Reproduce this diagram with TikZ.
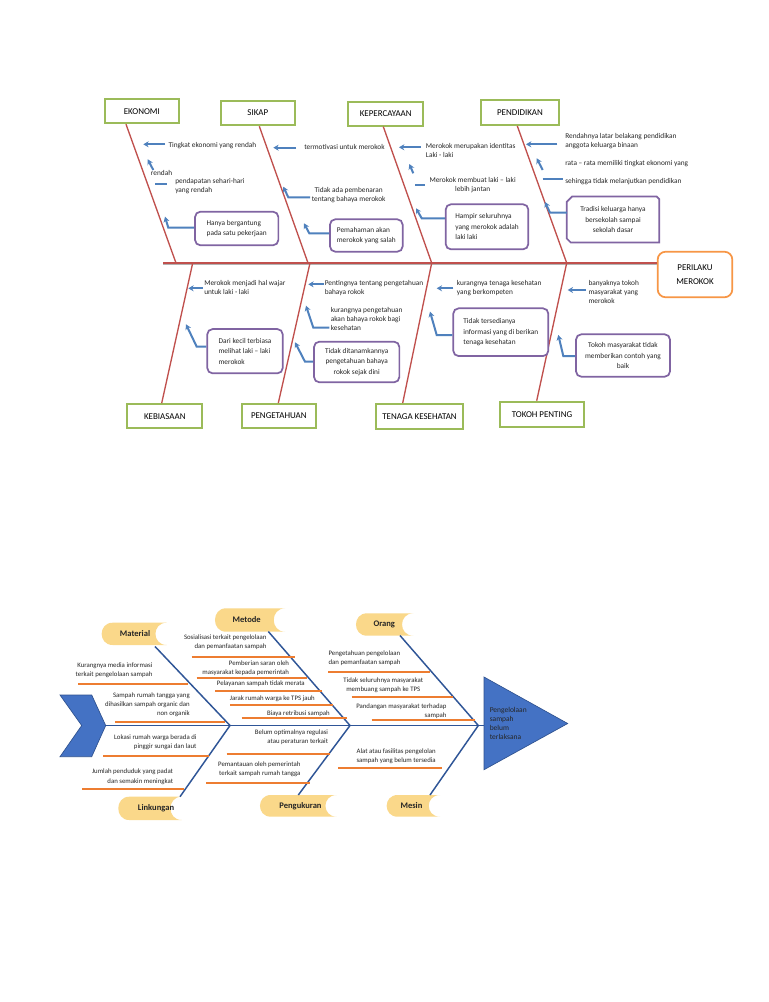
\documentclass[tikz,border=0pt]{standalone}
\usepackage{fontspec}
\setmainfont{Carlito}
\usetikzlibrary{arrows.meta}
\newcommand{\myfs}[2]{\fontsize{#1}{#2}\selectfont}
\definecolor{bonered}{HTML}{C0504D}
\definecolor{boxgreen}{HTML}{9BBB59}
\definecolor{boxpurple}{HTML}{8064A2}
\definecolor{arrblue}{HTML}{4F81BD}
\definecolor{boxorange}{HTML}{F79646}
\definecolor{txtgray}{HTML}{262626}
\definecolor{fbblue}{HTML}{2F5597}
\definecolor{fillblue}{HTML}{4472C4}
\definecolor{edgeblue}{HTML}{2F528F}
\definecolor{lineorange}{HTML}{ED7D31}
\definecolor{labyellow}{HTML}{FAD88A}
\newcommand{\ylab}[4]{\fill[labyellow] ({#1+11},#2) -- (#3,#2) .. controls ({#3-15},#2) and ({#3-15},#4) .. (#3,#4) -- ({#1+11},#4) .. controls ({#1-3.7},#4) and ({#1-3.7},#2) .. ({#1+11},#2) -- cycle;}
\begin{document}
\begin{tikzpicture}[x=0.75pt,y=-0.75pt,
  catbox/.style={draw=boxgreen, line width=1.4pt, fill=white, inner sep=0pt, font=\myfs{6.7}{8}, text=black},
  perbox/.style={draw=boxorange, line width=1.3pt, rounded corners=6pt, fill=white, inner sep=0pt, font=\myfs{6.7}{10}, text=black, align=center},
  txt/.style={inner sep=0pt, font=\myfs{5.5}{6.8}, text=txtgray, align=left, anchor=west},
  pbox/.style={draw=boxpurple, line width=1.3pt, rounded corners=4pt, fill=white, inner sep=0pt, font=\myfs{5.5}{7.8}, text=txtgray},
  arr/.style={draw=arrblue, line width=1.5pt, -{Stealth[length=4pt,width=4.5pt]}},
  bline/.style={draw=arrblue, line width=1.5pt},
  bone/.style={draw=bonered, line width=1pt},
  btxt/.style={inner sep=0pt, font=\myfs{5.1}{6.8}, text=txtgray},
  uline/.style={draw=lineorange, line width=1.4pt},
  fbone/.style={draw=fbblue, line width=1.1pt},
  lab/.style={inner sep=0pt, font=\bfseries\myfs{6.4}{7}, text=black!85}]
\useasboundingbox (0,0) rectangle (768,1002);
\fill[white] (0,0) rectangle (768,1002);

% ================= TOP FISHBONE =================
\node[catbox, minimum width=55.7pt, minimum height=18pt] (eko) at (141.8,111.3) {EKONOMI};
\node[catbox, minimum width=55.7pt, minimum height=18.5pt] (sik) at (257.8,113) {SIKAP};
\node[catbox, minimum width=56pt, minimum height=18pt] (kep) at (385.7,113.7) {KEPERCAYAAN};
\node[catbox, minimum width=59pt, minimum height=18.8pt] (pen) at (520,112.5) {PENDIDIKAN};
\node[catbox, minimum width=56.3pt, minimum height=18.2pt] (keb) at (164.8,416.2) {KEBIASAAN};
\node[catbox, minimum width=55.7pt, minimum height=18pt] (pget) at (278.8,416) {PENGETAHUAN};
\node[catbox, minimum width=65.7pt, minimum height=18.8pt] (ten) at (419.5,416.5) {TENAGA KESEHATAN};
\node[catbox, minimum width=63pt, minimum height=19.3pt] (tok) at (542,414.5) {TOKOH PENTING};
\node[perbox, minimum width=56pt, minimum height=34.2pt] (peril) at (695,274.5) {PERILAKU\\MEROKOK};

\coordinate (spineL) at (163,263);
\coordinate (ekoT) at (126,0);   \coordinate (ekoJ) at (176,263);
\coordinate (sikT) at (259.3,0); \coordinate (sikJ) at (308,263);
\coordinate (kepT) at (383.3,0); \coordinate (kepJ) at (431.7,263);
\coordinate (penT) at (517.3,0); \coordinate (penJ) at (566.7,263);
\coordinate (kebJ) at (192.7,263); \coordinate (kebB) at (161.7,0);
\coordinate (pgetJ) at (310,263);  \coordinate (pgetB) at (278.3,0);
\coordinate (tenJ) at (431.7,263); \coordinate (tenB) at (402.7,0);
\coordinate (tokJ) at (566.7,263); \coordinate (tokB) at (536.7,0);

\draw[black!30, line width=1pt] ([yshift=-1.3pt]spineL) -- ([yshift=-1.3pt]spineL -| peril.west);
\draw[bonered, line width=1.3pt] (spineL) -- (spineL -| peril.west);
\draw[bone] (eko.south -| ekoT) -- (ekoJ);
\draw[bone] (sik.south -| sikT) -- (sikJ);
\draw[bone] (kep.south -| kepT) -- (kepJ);
\draw[bone] (pen.south -| penT) -- (penJ);
\draw[bone] (kebJ) -- (keb.north -| kebB);
\draw[bone] (pgetJ) -- (pget.north -| pgetB);
\draw[bone] (tenJ) -- (ten.north -| tenB);
\draw[bone] (tokJ) -- (tok.north -| tokB);

% texts
\node[txt] (t1) at (168.3,145.5) {Tingkat ekonomi yang rendah};
\node[txt] (t2) at (304,146.5) {termotivasi untuk merokok};
\node[txt] (t3) at (425.7,150.5) {Merokok merupakan identitas\\Laki - laki};
\node[txt] (t4) at (565,141.2) {Rendahnya latar belakang pendidikan\\anggota keluarga binaan};
\node[txt] (t5) at (565,164) {rata – rata memiliki tingkat ekonomi yang};
\node[txt] (t6) at (565,182) {sehingga tidak melanjutkan pendidikan};
\node[txt] (t7) at (150.7,172.7) {rendah};
\node[txt] (t8) at (175,186) {pendapatan sehari-hari\\yang rendah};
\node[txt, align=center] (t9) at (311.5,195) {Tidak ada pembenaran\\tentang bahaya merokok};
\node[txt, align=center] (t10) at (429.3,185.3) {Merokok membuat laki – laki\\lebih jantan};
\node[txt] (t11) at (204,287.8) {Merokok menjadi hal wajar\\untuk laki - laki};
\node[txt] (t12) at (324.5,287.8) {Pentingnya tentang pengetahuan\\bahaya rokok};
\node[txt] (t13) at (330.5,319) {kurangnya pengetahuan\\akan bahaya rokok bagi\\kesehatan};
\node[txt] (t14) at (456.7,288) {kurangnya tenaga kesehatan\\yang berkompeten};
\node[txt] (t15) at (588.3,292.3) {banyaknya tokoh\\masyarakat yang\\merokok};

% purple boxes
\node[pbox, minimum width=62.5pt, minimum height=25.2pt, align=left] (hanya) at (236.7,228.5) {Hanya bergantung\\pada satu pekerjaan};
\node[pbox, minimum width=54.5pt, minimum height=24.3pt, align=left] (pemah) at (366.3,235.5) {Pemahaman akan\\merokok yang salah};
\node[pbox, minimum width=62pt, minimum height=33.8pt, align=left] (hampir) at (487,226.8) {Hampir seluruhnya\\yang merokok adalah\\laki laki};
\node[pbox, draw=none, minimum width=68pt, minimum height=33.3pt, align=center] (trad) at (613,219.5) {Tradisi keluarga hanya\\bersekolah sampai\\sekolah dasar};
\draw[boxpurple, line width=1.3pt] ([xshift=4pt]trad.north west) -- ([xshift=-2pt]trad.north east) -- ([yshift=-2pt]trad.north east) -- (trad.south east) -- ([xshift=3pt]trad.south west) -- ([yshift=3pt]trad.south west) -- ([yshift=-4pt]trad.north west) -- cycle;
\node[pbox, minimum width=56.6pt, minimum height=33.2pt, align=left] (dari) at (245,351.2) {Dari kecil terbiasa\\melihat laki – laki\\merokok};
\node[pbox, minimum width=64pt, minimum height=30.5pt, align=center] (tdit) at (356.7,362) {Tidak ditanamkannya\\pengetahuan bahaya\\rokok sejak dini};
\node[pbox, minimum width=71.3pt, minimum height=35.8pt, align=left] (tsed) at (500.8,332.2) {Tidak tersedianya\\informasi yang di berikan\\tenaga kesehatan};
\node[pbox, minimum width=70.5pt, minimum height=31.8pt, align=center] (tokb) at (623,355.5) {Tokoh masyarakat tidak\\memberikan contoh yang\\baik};

% arrows
\coordinate (a1s) at (165,144.3);   \coordinate (a1t) at (143.3,144.3);
\coordinate (a2s) at (296,147.7);   \coordinate (a2t) at (273.3,147.7);
\coordinate (a3s) at (420.7,147.3); \coordinate (a3t) at (399,147.3);
\coordinate (a4s) at (557.3,144.3); \coordinate (a4t) at (526,144.3);
\coordinate (a5s) at (542.7,170);   \coordinate (a5t) at (536.7,158.3);
\coordinate (l6s) at (542.7,178.7); \coordinate (l6t) at (562.7,178.7);
\coordinate (a7s) at (153.3,170);   \coordinate (a7t) at (147.7,159.3);
\coordinate (l8s) at (155.3,184.3); \coordinate (l8t) at (166.7,184.3);
\coordinate (a9b) at (168.3,227.7); \coordinate (a9t) at (165,216.7);
\coordinate (a10s) at (310,197.3);  \coordinate (a10b) at (288.3,197.3); \coordinate (a10t) at (283.3,186.7);
\coordinate (a11b) at (309.3,233.3); \coordinate (a11t) at (304,223.3);
\coordinate (a12s) at (413.3,173.3); \coordinate (a12t) at (409.3,164);
\coordinate (l13s) at (415.3,184.7); \coordinate (l13t) at (425,184.7);
\coordinate (a14b) at (421.7,218.3); \coordinate (a14t) at (416,208.3);
\coordinate (a15b) at (550,212.7);   \coordinate (a15t) at (545,202);
\coordinate (a16s) at (202.7,288.3); \coordinate (a16t) at (188.3,288.3);
\coordinate (a17b) at (196.7,346.7); \coordinate (a17t) at (186,324.3);
\coordinate (a18s) at (324,284.3);   \coordinate (a18t) at (308.3,284.3);
\coordinate (a19s) at (329.3,327.7); \coordinate (a19b) at (313.3,327.7); \coordinate (a19t) at (306,305.7);
\coordinate (a20b) at (305,361.7);   \coordinate (a20t) at (295,342.3);
\coordinate (a21s) at (453.3,288.3); \coordinate (a21t) at (436.7,288.3);
\coordinate (a22b) at (436.7,335);   \coordinate (a22t) at (430,311.7);
\coordinate (a23s) at (585.7,290);   \coordinate (a23t) at (567.7,290);
\coordinate (a24b) at (563.3,356);   \coordinate (a24t) at (558.3,335);

\draw[arr] (a1s) -- (a1t);
\draw[arr] (a2s) -- (a2t);
\draw[arr] (a3s) -- (a3t);
\draw[arr] (a4s) -- (a4t);
\draw[arr] (a5s) -- (a5t);
\draw[bline] (l6s) -- (l6t);
\draw[arr] (a7s) -- (a7t);
\draw[bline] (l8s) -- (l8t);
\draw[arr] (hanya.west |- a9b) -- (a9b) -- (a9t);
\draw[arr] (a10s) -- (a10b) -- (a10t);
\draw[arr] (pemah.west |- a11b) -- (a11b) -- (a11t);
\draw[arr] (a12s) -- (a12t);
\draw[bline] (l13s) -- (l13t);
\draw[arr] (hampir.west |- a14b) -- (a14b) -- (a14t);
\draw[arr] (trad.west |- a15b) -- (a15b) -- (a15t);
\draw[arr] (a16s) -- (a16t);
\draw[arr] (dari.west |- a17b) -- (a17b) -- (a17t);
\draw[arr] (a18s) -- (a18t);
\draw[arr] (a19s) -- (a19b) -- (a19t);
\draw[arr] (tdit.west |- a20b) -- (a20b) -- (a20t);
\draw[arr] (a21s) -- (a21t);
\draw[arr] (tsed.west |- a22b) -- (a22b) -- (a22t);
\draw[arr] (a23s) -- (a23t);
\draw[arr] (tokb.west |- a24b) -- (a24b) -- (a24t);

% ================= BOTTOM FISHBONE =================
% chevron tail and head
\filldraw[fill=fillblue, draw=edgeblue, line width=0.5pt] (60,695) -- (91.7,695) -- (105.7,725.5) -- (91.7,756.7) -- (60,756.7) -- (81.7,725.5) -- cycle;
\coordinate (tailtip) at (105.7,725.5);
\filldraw[fill=fillblue, draw=edgeblue, line width=0.5pt] (484,677) -- (567.7,723.5) -- (484,769.7) -- cycle;
\node[inner sep=0pt, anchor=west, align=left, font=\myfs{5.6}{6.8}, text=black!85] (head) at (489.5,723.5) {Pengelolaan\\sampah\\belum\\terlaksana};
\coordinate (headL) at (484,725.5);
\draw[fbone] (tailtip) -- (headL);

% labels
\ylab{101.7}{622.7}{166.7}{645}
\ylab{215}{608.3}{285}{631.7}
\ylab{356}{613.3}{413.3}{635.7}
\ylab{118.3}{796.7}{181.7}{820}
\ylab{260}{795}{336.7}{816.7}
\ylab{386.7}{795}{440}{816.7}
\node[lab] (material) at (135,633.5) {Material};
\node[lab] (metode) at (246.7,619.5) {Metode};
\node[lab] (orang) at (384.3,624.3) {Orang};
\node[lab] (linkungan) at (156,808) {Linkungan};
\node[lab] (pengukuran) at (300.5,805.8) {Pengukuran};
\node[lab] (mesin) at (411.5,805.3) {Mesin};

% bones
\coordinate (bJ1) at (230,725.5);
\coordinate (bJ2) at (350,725.5);
\coordinate (bJ3) at (478.3,725.5);
\coordinate (matB) at (155,646.5);
\coordinate (metB) at (268.3,631.5);
\coordinate (oraB) at (400,635.5);
\coordinate (linB) at (180,796.7);
\coordinate (pguB) at (298.3,795);
\coordinate (mesB) at (430,795);
\draw[fbone] (matB) -- (bJ1);
\draw[fbone] (linB) -- (bJ1);
\draw[fbone] (metB) -- (bJ2);
\draw[fbone] (pguB) -- (bJ2);
\draw[fbone] (oraB) -- (bJ3);
\draw[fbone] (mesB) -- (bJ3);

% underlines
\draw[uline] (78.3,684.3) -- (188.3,684.3);
\draw[uline] (115,721.7) -- (225,721.7);
\draw[uline] (103.3,755.7) -- (209.3,755.7);
\draw[uline] (82.3,789) -- (184,789);
\draw[uline] (191.7,657.3) -- (295,657.3);
\draw[uline] (196.7,677.7) -- (306.7,677.7);
\draw[uline] (215,690.7) -- (321.7,690.7);
\draw[uline] (230,705) -- (333.3,705);
\draw[uline] (241.7,718.3) -- (346.7,718.3);
\draw[uline] (226.7,754.3) -- (330,754.3);
\draw[uline] (206,783.3) -- (310,783.3);
\draw[uline] (328.3,671.7) -- (430,671.7);
\draw[uline] (351.7,697.3) -- (453.3,697.3);
\draw[uline] (371.7,720) -- (475,720);
\draw[uline] (338.3,768.3) -- (441.7,768.3);

% texts
\node[btxt, anchor=east, align=right] (bm1) at (152.7,670.3) {Kurangnya media informasi\\terkait pengelolaan sampah};
\node[btxt, anchor=east, align=right] (bm2) at (190,705) {Sampah rumah tangga yang\\dihasilkan sampah organic dan\\non organik};
\node[btxt, anchor=east, align=right] (bm3) at (196.7,742.2) {Lokasi rumah warga berada di\\pinggir sungai dan laut};
\node[btxt, anchor=east, align=right] (bm4) at (173.3,776.7) {Jumlah penduduk yang padat\\dan semakin meningkat};
\node[btxt, anchor=east, align=right] (be1) at (266.7,642.2) {Sosialisasi terkait pengelolaan\\dan pemanfaatan sampah};
\node[btxt, anchor=east, align=right] (be2) at (289.3,667.8) {Pemberian saran oleh\\masyarakat kepada pemerintah};
\node[btxt, anchor=east, align=right] (be3) at (305,684) {Pelayanan sampah tidak merata};
\node[btxt, anchor=east, align=right] (be4) at (315,699) {Jarak rumah warga ke TPS jauh};
\node[btxt, anchor=east, align=right] (be5) at (330,713.3) {Biaya retribusi sampah};
\node[btxt, anchor=east, align=right] (bp1) at (328.3,737.2) {Belum optimalnya regulasi\\atau peraturan terkait};
\node[btxt, anchor=east, align=right] (bp2) at (300.7,768.8) {Pemantauan oleh pemerintah\\terkait sampah rumah tangga};
\node[btxt, anchor=west, align=left] (bo1) at (328.3,657.8) {Pengetahuan pengelolaan\\dan pemanfaatan sampah};
\node[btxt, align=center] (bo2) at (383.3,685.5) {Tidak seluruhnya masyarakat\\membuang sampah ke TPS};
\node[btxt, anchor=east, align=right] (bo3) at (446.7,711.2) {Pandangan masyarakat terhadap\\sampah};
\node[btxt, anchor=east, align=right] (bs1) at (436,756.2) {Alat atau fasilitas pengelolan\\sampah yang belum tersedia};
\end{tikzpicture}
\end{document}
